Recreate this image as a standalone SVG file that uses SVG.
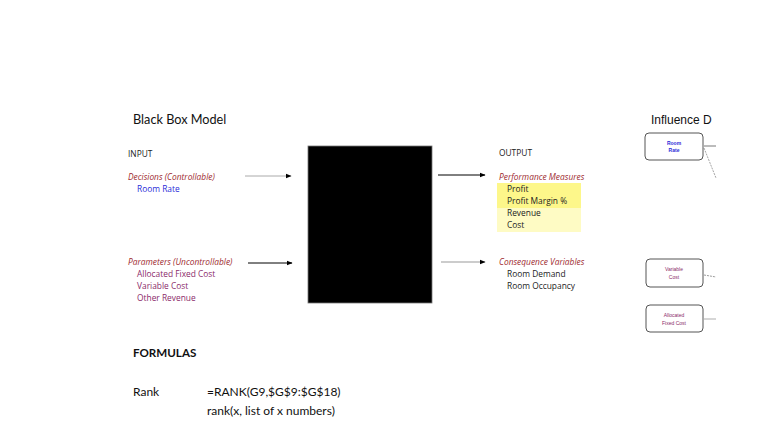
<svg xmlns="http://www.w3.org/2000/svg" width="784" height="441" viewBox="0 0 784 441">
<defs>
<marker id="ah" viewBox="0 0 10 10" refX="9" refY="5" markerWidth="6" markerHeight="6" orient="auto" markerUnits="userSpaceOnUse"><path d="M0,1 L10,5 L0,9 z" fill="#000"/></marker>
<style>
.s{font-family:"Open Sans","Liberation Sans",sans-serif;font-size:8.4px;}
.h{font-family:Lato,"Liberation Sans",sans-serif;}
.red{fill:#9e2a2f;font-style:italic;}
.pur{fill:#8b2a6a;}
.blu{fill:#2b2bd8;}
.blk{fill:#222;}
.box{fill:#fff;stroke:#555;stroke-width:1;}
.tiny{font-family:"Liberation Sans",sans-serif;font-size:5px;text-anchor:middle;}
</style>
</defs>
<rect width="784" height="441" fill="#fff"/>
<text class="h" x="133" y="124" font-size="12.7" fill="#111">Black Box Model</text>
<text x="651" y="124" font-family="Liberation Sans,sans-serif" font-size="12" fill="#111">Influence D</text>

<g id="input">
<text class="s blk" x="128" y="157" font-size="7.5">INPUT</text>
<text class="s red" x="128" y="180">Decisions (Controllable)</text>
<text class="s blu" x="137" y="192">Room Rate</text>
<text class="s red" x="128" y="265">Parameters (Uncontrollable)</text>
<text class="s pur" x="137" y="277">Allocated Fixed Cost</text>
<text class="s pur" x="137" y="289">Variable Cost</text>
<text class="s pur" x="137" y="301">Other Revenue</text>
</g>

<g id="blackbox"><rect x="308" y="146" width="124" height="157" fill="#000" stroke="#777" stroke-width="0.8"/></g>

<g id="output">
<rect x="497" y="183" width="84" height="25" fill="#fdf78a"/>
<rect x="497" y="208" width="84" height="24" fill="#fefbc4"/>
<text class="s blk" x="499" y="156" font-size="7.5">OUTPUT</text>
<text class="s red" x="499" y="180">Performance Measures</text>
<text class="s blk" x="507" y="192">Profit</text>
<text class="s blk" x="507" y="204">Profit Margin %</text>
<text class="s blk" x="507" y="216">Revenue</text>
<text class="s blk" x="507" y="228">Cost</text>
<text class="s red" x="499" y="265">Consequence Variables</text>
<text class="s blk" x="507" y="277">Room Demand</text>
<text class="s blk" x="507" y="289">Room Occupancy</text>
</g>

<g id="connectors" fill="none">
<line x1="245" y1="176" x2="291" y2="176" stroke="#aaa" stroke-width="1" marker-end="url(#ah)"/>
<line x1="248" y1="263" x2="292" y2="263" stroke="#000" stroke-width="1" marker-end="url(#ah)"/>
<line x1="438" y1="175" x2="485" y2="175" stroke="#000" stroke-width="1" marker-end="url(#ah)"/>
<line x1="441" y1="262" x2="485" y2="262" stroke="#999" stroke-width="1" marker-end="url(#ah)"/>
<line x1="704" y1="146" x2="716" y2="146" stroke="#555" stroke-width="0.8"/>
<line x1="704" y1="148" x2="716" y2="178" stroke="#666" stroke-width="0.6" stroke-dasharray="2,1"/>
<line x1="704" y1="275" x2="716" y2="277" stroke="#555" stroke-width="0.6" stroke-dasharray="2,1"/>
<line x1="704" y1="319" x2="716" y2="319" stroke="#777" stroke-width="0.6"/>
</g>

<g id="n-roomrate"><rect class="box" x="645" y="133" width="58" height="27" rx="4"/><text class="tiny blu" x="674" y="145" font-weight="bold">Room</text><text class="tiny blu" x="674" y="152" font-weight="bold">Rate</text></g>
<g id="n-varcost"><rect class="box" x="646" y="259" width="57" height="28" rx="4"/><text class="tiny pur" x="674" y="271">Variable</text><text class="tiny pur" x="674" y="279">Cost</text></g>
<g id="n-afc"><rect class="box" x="646" y="305" width="57" height="27" rx="4"/><text class="tiny pur" x="674" y="317">Allocated</text><text class="tiny pur" x="674" y="325">Fixed Cost</text></g>

<g id="formulas" font-family="Lato,'Liberation Sans',sans-serif" fill="#111">
<text x="133" y="357" font-size="11.6" font-weight="bold">FORMULAS</text>
<text x="133" y="396" font-size="12">Rank</text>
<text x="207" y="396" font-size="12">=RANK(G9,$G$9:$G$18)</text>
<text x="207" y="415" font-size="12">rank(x, list of x numbers)</text>
</g>
</svg>
